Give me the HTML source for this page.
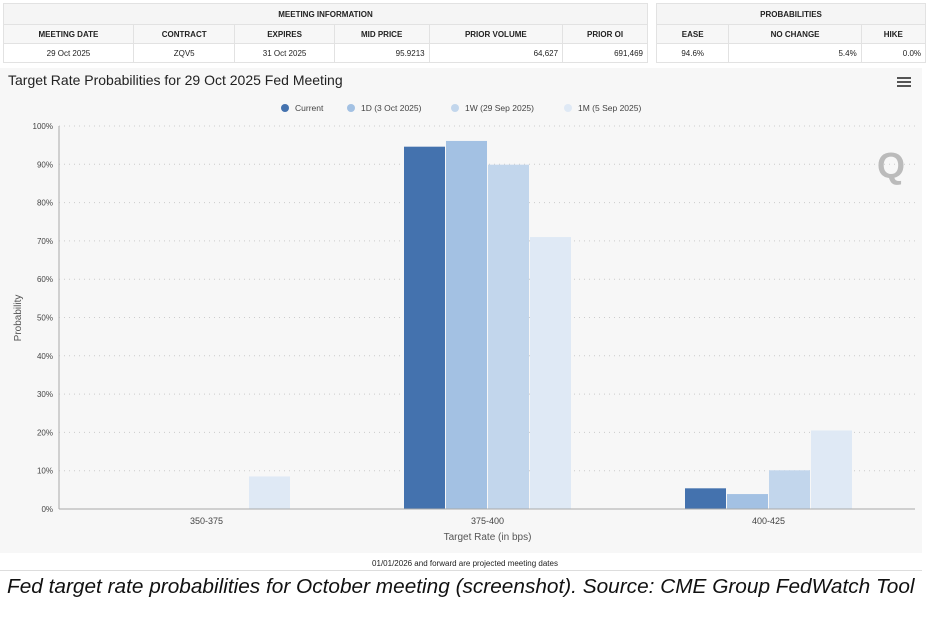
<!DOCTYPE html>
<html><head><meta charset="utf-8"><style>
*{margin:0;padding:0;box-sizing:border-box}
body{width:930px;height:626px;background:#fff;font-family:"Liberation Sans",sans-serif;position:relative;overflow:hidden}
table{position:absolute;border-collapse:collapse;font-size:8px;color:#222}
td{border:1px solid #e2e2e2;height:19px;padding:0 4px}
.h td{background:#f5f5f5;font-weight:bold;text-align:center;height:21px}
.s td{background:#f7f7f7;font-weight:bold;text-align:center}
</style></head><body>
<table style="left:3px;top:3px;width:645px">
<tr class="h"><td colspan="6">MEETING INFORMATION</td></tr>
<tr class="s"><td>MEETING DATE</td><td>CONTRACT</td><td>EXPIRES</td><td>MID PRICE</td><td>PRIOR VOLUME</td><td>PRIOR OI</td></tr>
<tr><td style="text-align:center">29 Oct 2025</td><td style="text-align:center">ZQV5</td><td style="text-align:center">31 Oct 2025</td><td style="text-align:right">95.9213</td><td style="text-align:right">64,627</td><td style="text-align:right">691,469</td></tr>
</table>
<table style="left:656px;top:3px;width:270px">
<tr class="h"><td colspan="3">PROBABILITIES</td></tr>
<tr class="s"><td>EASE</td><td>NO CHANGE</td><td>HIKE</td></tr>
<tr><td style="text-align:center">94.6%</td><td style="text-align:right">5.4%</td><td style="text-align:right">0.0%</td></tr>
</table>
<div style="position:absolute;left:0;top:68px;width:922px;height:485px;background:#f7f7f7"></div>
<div style="position:absolute;left:8px;top:72px;font-size:14px;color:#222">Target Rate Probabilities for 29 Oct 2025 Fed Meeting</div>
<div style="position:absolute;left:897px;top:77px;width:14px"><div style="height:2px;background:#555;margin-bottom:2px"></div><div style="height:2px;background:#555;margin-bottom:2px"></div><div style="height:2px;background:#555"></div></div>
<svg id="c" width="930" height="626" style="position:absolute;left:0;top:0" font-family="Liberation Sans, sans-serif"></svg>
<div style="position:absolute;left:0;width:930px;top:559px;text-align:center;font-size:8px;color:#222">01/01/2026 and forward are projected meeting dates</div>
<div style="position:absolute;left:0;top:570px;width:922px;height:1px;background:#ddd"></div>
<div style="position:absolute;left:7px;top:576px;font-size:20px;font-style:italic;color:#111;white-space:nowrap;transform:scaleX(1.04);transform-origin:0 0">Fed target rate probabilities for October meeting (screenshot). Source: CME Group FedWatch Tool</div>
<script>
const categories=["350-375","375-400","400-425"];
const seriesNames=["Current","1D (3 Oct 2025)","1W (29 Sep 2025)","1M (5 Sep 2025)"];
const current=[0,94.6,5.4];
const d1=[0,96.1,3.9];
const w1=[0,89.9,10.1];
const m1=[8.5,71.0,20.5];
const yTicks=[0,10,20,30,40,50,60,70,80,90,100];
const colors=["#4472ae","#a3c1e3","#c2d6ec","#dfe9f5"];
const series=[current,d1,w1,m1];
const svg=document.getElementById('c');const NS="http://www.w3.org/2000/svg";
const X0=59,X1=915,Y0=509,Y1=126;
const C0=66,C1=909;
const y=v=>Y0-(v/100)*(Y0-Y1);
const gw=(C1-C0)/categories.length;
const gx=i=>C0+gw*i+gw/2;
function mk(t,a,txt){const e=document.createElementNS(NS,t);for(const k in a)e.setAttribute(k,a[k]);if(txt!=null)e.textContent=txt;svg.appendChild(e);return e;}
yTicks.forEach(t=>{
 const l=mk('line',{x1:X0,x2:X1,y1:y(t),y2:y(t),stroke:'#ccc','stroke-dasharray':'1,4'});
 
 
 const tx=mk('text',{x:X0-6,y:y(t)+3,'font-size':8,'text-anchor':'end',fill:'#444'},t+'%');
 
 
});
const bw=42;
series.forEach((s,si)=>{s.forEach((v,ci)=>{
 const x=gx(ci)-2*bw+si*bw;
 const r=mk('rect',{x:x+0.5,y:y(v),width:bw-1,height:Y0-y(v),fill:colors[si]});
 
 
});});
mk('line',{x1:X0,x2:X0,y1:Y1,y2:Y0,stroke:'#aaa'});
mk('line',{x1:X0,x2:X1,y1:Y0,y2:Y0,stroke:'#aaa'});
categories.forEach((c,i)=>{
 const t=mk('text',{x:gx(i),y:524,'font-size':9,'text-anchor':'middle',fill:'#444'},c);
 
 
});
const xt=mk('text',{x:gx(1),y:540,'font-size':10,'text-anchor':'middle',fill:'#555'},'Target Rate (in bps)');


const yt=mk('text',{x:21,y:318,'font-size':10,'text-anchor':'middle',fill:'#555',transform:'rotate(-90 21 318)'},'Probability');


const lx=[285,351,455,568];
seriesNames.forEach((n,i)=>{
 const c=mk('circle',{cx:lx[i],cy:108,r:4,fill:colors[i]});
 
 
 const t=mk('text',{x:lx[i]+10,y:111,'font-size':8.5,fill:'#444'},n);
 
 
});
const q=mk('text',{x:877,y:178,'font-size':36,'font-weight':'bold',fill:'#bbb'},'Q');


</script>
</body></html>
